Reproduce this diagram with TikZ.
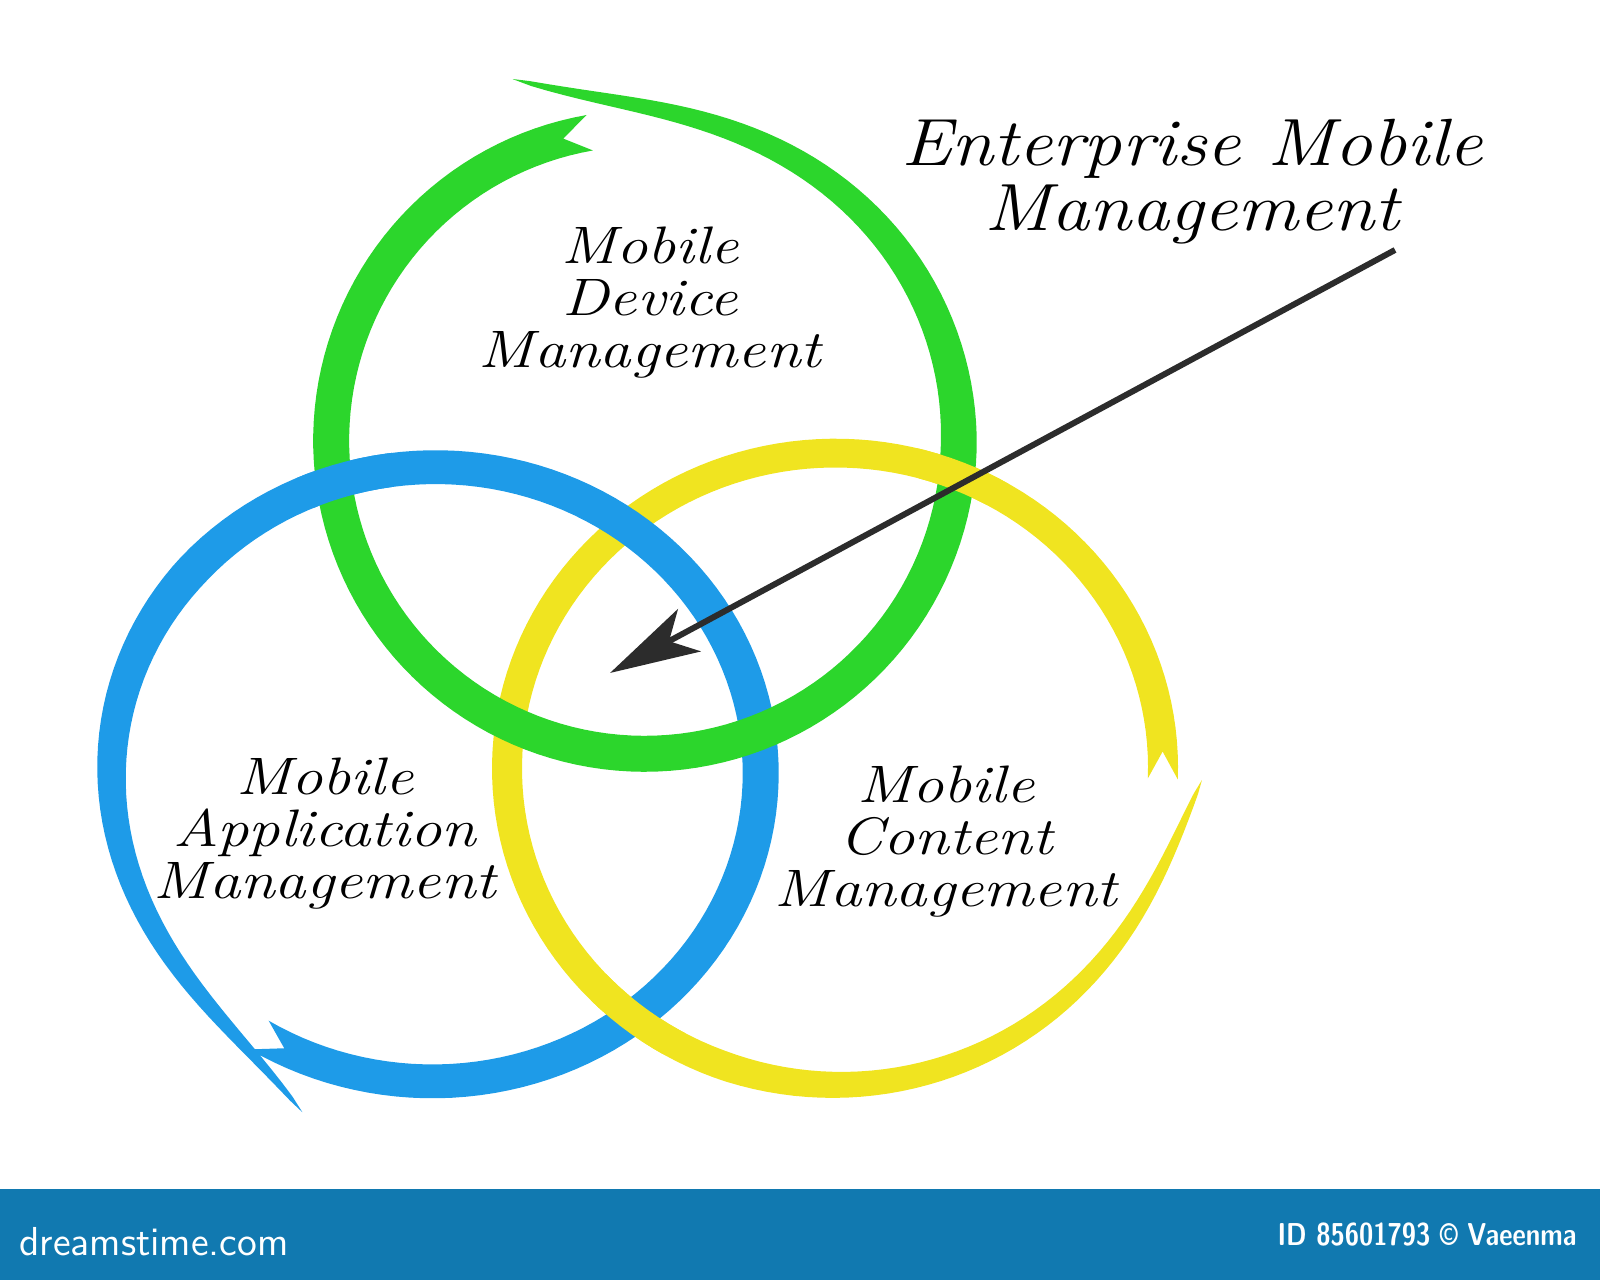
\documentclass[tikz,border=0pt]{standalone}
\usetikzlibrary{positioning}
\usetikzlibrary{arrows.meta}
\definecolor{ringgreen}{RGB}{44,214,44}
\definecolor{ringblue}{RGB}{30,155,232}
\definecolor{ringyellow}{RGB}{240,228,32}
\definecolor{arrowgrey}{RGB}{44,44,44}
\definecolor{footerblue}{RGB}{17,121,176}
\tikzset{
  ringtext/.style={font=\fontsize{15}{14.8}\selectfont\itshape, align=center,
    transform shape, xscale=1.19},
  emmtitle/.style={font=\fontsize{19}{18.4}\selectfont\itshape, align=center,
    transform shape, xscale=1.14},
  emmarrow/.style={arrowgrey, line width=1.7pt,
    -{Stealth[length=9mm, width=4.8mm, inset=2.3mm]}},
  footertext/.style={white, font=\sffamily}
}
\begin{document}
\begin{tikzpicture}
  \newcommand{\vennring}[9]{%
    \begin{scope}[shift={(#2,#3)},#1,
        declare function={ringpos(\t)=(\t-(#6))/((#7)-(#6));
          ringrad(\t)=#4+(#5-#4)*ringpos(\t)+#9*exp(max(-12,25*(ringpos(\t)-1)));
          ringwid(\t)=0.5*#8*min(1,sqrt(max(0,(1-ringpos(\t))/0.3)));}]
      \fill plot[domain=#6:#7,samples=160] (\x:{ringrad(\x)+ringwid(\x)})
        -- plot[domain=#7:#6,samples=160] (\x:{ringrad(\x)-ringwid(\x)})
        -- ({#6+5}:{ringrad(#6+5)}) -- cycle;
    \end{scope}}
  \newcommand{\yellowring}{\vennring{fill=ringyellow,yscale=0.96}{8.36}{5.12}{3.27}{3.31}{-2}{358}{0.3}{0.35}}
  \newcommand{\bluering}{\vennring{fill=ringblue,yscale=0.94}{4.34}{5.08}{3.3}{3.2}{238}{610}{0.36}{0.65}}
  \useasboundingbox (0,0) rectangle (16,12.8);
  \fill[footerblue] (0,0) rectangle (16,0.91);

  \yellowring
  \bluering
  \vennring{fill=ringgreen}{6.44}{8.4}{3.12}{3.16}{100}{470}{0.36}{0.68}

  \begin{scope}
    \clip (3.45,8.1) circle (0.5);
    \bluering
  \end{scope}
  \begin{scope}
    \clip (9.65,8.2) circle (0.5);
    \yellowring
  \end{scope}
  \begin{scope}
    \clip (6.4,2.7) circle (0.5);
    \yellowring
  \end{scope}

  \node[ringtext] (device) at (6.5,9.77) {Mobile\\Device\\Management};
  \node[ringtext] (application) at (3.25,4.46) {Mobile\\Application\\Management};
  \node[ringtext] (content) at (9.46,4.38) {Mobile\\Content\\Management};
  \node[emmtitle] (emm) at (11.92,10.98) {Enterprise Mobile\\Management};

  \coordinate (emmtail) at (13.95,10.3);
  \coordinate (hub) at (6.1,6.07);
  \draw[emmarrow] (emmtail) -- (hub);

  \node[footertext, font=\fontsize{11.5}{13}\selectfont\sffamily] (site) at (1.54,0.38) {dreamstime.com};
  \node[footertext, font=\fontsize{9}{11}\selectfont\sffamily\bfseries] (imageid) at (14.27,0.45)
    {\scalebox{0.82}[1]{ID 85601793 \textcopyright{} Vaeenma}};
\end{tikzpicture}
\end{document}
